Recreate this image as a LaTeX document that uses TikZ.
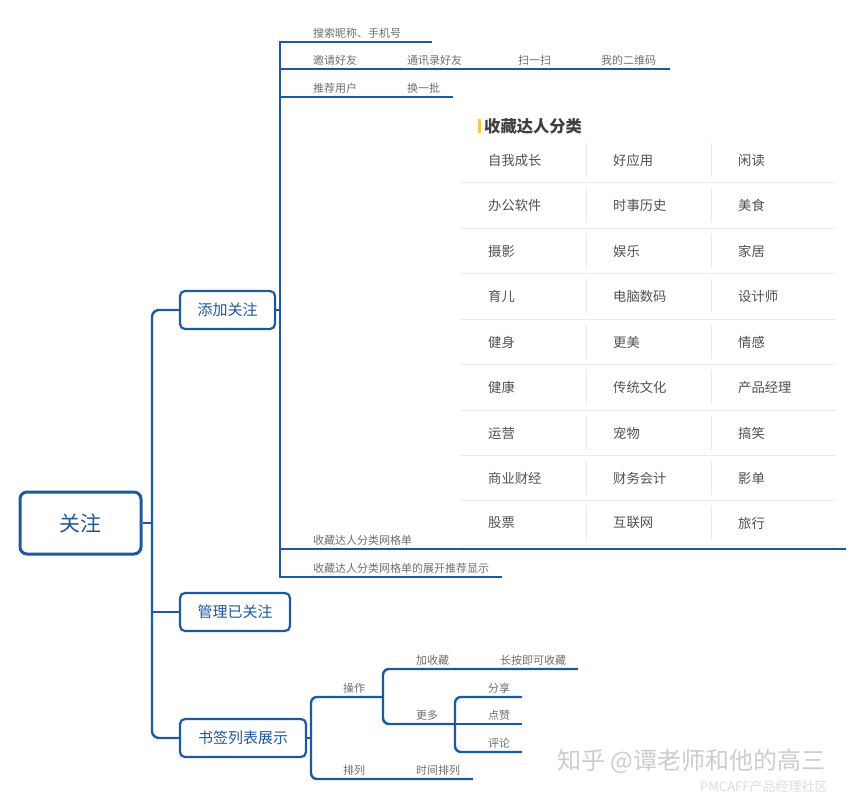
\documentclass[tikz,border=0pt]{standalone}
\usepackage{fontspec}
\newfontfamily\cjk{Noto Sans CJK SC}
\usetikzlibrary{positioning,calc}
\definecolor{mapblue}{RGB}{30,88,160}
\definecolor{leafgray}{RGB}{110,110,110}
\definecolor{cellgray}{RGB}{80,80,80}
\definecolor{gridline}{RGB}{234,234,234}
\definecolor{titlebar}{RGB}{250,200,60}
\definecolor{markgray}{RGB}{205,205,205}

\begin{document}
\begin{tikzpicture}[
  x=1pt, y=-1pt,
  font=\cjk,
  branch/.style={draw=mapblue, line width=2.4pt},
  rootbox/.style={draw=mapblue, line width=3pt, fill=white, rounded corners=7pt,
    minimum width=121pt, minimum height=62pt, text=mapblue, font=\cjk\fontsize{21}{21}\selectfont},
  topicbox/.style={draw=mapblue, line width=2.2pt, fill=white, rounded corners=5pt,
    minimum height=38pt, text=mapblue, font=\cjk\fontsize{15}{15}\selectfont},
  leaf/.style={anchor=base west, inner sep=0pt, text=leafgray, font=\cjk\fontsize{11}{11}\selectfont},
  cell/.style={anchor=west, inner sep=0pt, text=cellgray, font=\cjk\fontsize{13.3}{13.3}\selectfont},
  sep/.style={draw=gridline, line width=1pt}
]
\useasboundingbox (0,0) rectangle (865,798);

% main topics
\node[rootbox] (root) at (80.5,523) {关注};
\node[topicbox, minimum width=95pt] (add) at (227.5,310) {添加关注};
\node[topicbox, minimum width=110pt] (manage) at (235,612) {管理已关注};
\node[topicbox, minimum width=126pt] (mark) at (243,738) {书签列表展示};

\coordinate (rootfork) at (152,523);
\draw[branch] (root.east) -- (rootfork);
\draw[branch, rounded corners=7pt] (add.west) -| (rootfork) |- (mark.west);
\draw[branch] (rootfork |- manage.west) -- (manage.west);

% 添加关注
\coordinate (addfork) at (280,310);
\coordinate (searchend) at (432,42);
\coordinate (inviteend) at (670,69);
\coordinate (recommend) at (453,97);
\coordinate (gridend) at (846,549);
\coordinate (expandend) at (502,577);
\draw[branch] (add.east) -- (addfork);
\draw[branch] (searchend) -| (addfork) |- (expandend);
\draw[branch] (addfork |- inviteend) -- (inviteend);
\draw[branch] (addfork |- recommend) -- (recommend);
\draw[branch] (addfork |- gridend) -- (gridend);

\node[leaf] (search) at (313,37) {搜索昵称、手机号};
\node[leaf] (invite) at (313,64) {邀请好友};
\node[leaf] (contacts) at (407,64) {通讯录好友};
\node[leaf] (scan) at (518,64) {扫一扫};
\node[leaf] (qrcode) at (601,64) {我的二维码};
\node[leaf] (users) at (313,92) {推荐用户};
\node[leaf] (refresh) at (407,92) {换一批};
\node[leaf] (gridlabel) at (313,544) {收藏达人分类网格单};
\node[leaf] (expandlabel) at (313,572) {收藏达人分类网格单的展开推荐显示};

% 收藏达人分类 grid
\fill[titlebar] (478,119) rectangle (481,133);
\node[anchor=west, inner sep=0pt, text=black!75, font=\cjk\bfseries\fontsize{16.3}{16.3}\selectfont]
  (gridtitle) at (484,126.5) {收藏达人分类};
\foreach \y in {182.5,228,273.5,319,364.5,410,455.5,500.5,545.5}
  \draw[sep] (461,\y) -- (836,\y);
\foreach \y in {160,205,251,296,342,387,433,478,523}
  \draw[sep] (586,\y-17) -- (586,\y+17) (711,\y-17) -- (711,\y+17);

\node[cell] (c11) at (488,160) {自我成长};
\node[cell] (c12) at (613,160) {好应用};
\node[cell] (c13) at (738,160) {闲读};
\node[cell] (c21) at (488,205) {办公软件};
\node[cell] (c22) at (613,205) {时事历史};
\node[cell] (c23) at (738,205) {美食};
\node[cell] (c31) at (488,251) {摄影};
\node[cell] (c32) at (613,251) {娱乐};
\node[cell] (c33) at (738,251) {家居};
\node[cell] (c41) at (488,296) {育儿};
\node[cell] (c42) at (613,296) {电脑数码};
\node[cell] (c43) at (738,296) {设计师};
\node[cell] (c51) at (488,342) {健身};
\node[cell] (c52) at (613,342) {更美};
\node[cell] (c53) at (738,342) {情感};
\node[cell] (c61) at (488,387) {健康};
\node[cell] (c62) at (613,387) {传统文化};
\node[cell] (c63) at (738,387) {产品经理};
\node[cell] (c71) at (488,433) {运营};
\node[cell] (c72) at (613,433) {宠物};
\node[cell] (c73) at (738,433) {搞笑};
\node[cell] (c81) at (488,478) {商业财经};
\node[cell] (c82) at (613,478) {财务会计};
\node[cell] (c83) at (738,478) {影单};
\node[cell] (c91) at (488,523) {股票};
\node[cell] (c92) at (613,523) {互联网};
\node[cell] (c93) at (738,523) {旅行};

% 书签列表展示
\coordinate (markfork) at (311,738);
\coordinate (opfork) at (383,697);
\coordinate (sortend) at (473,779);
\coordinate (collectend) at (578,669);
\coordinate (morefork) at (455,724);
\coordinate (shareend) at (522,697);
\coordinate (likeend) at (522,724);
\coordinate (commentend) at (522,752);
\draw[branch] (mark.east) -- (markfork);
\draw[branch, rounded corners=6pt] (opfork) -| (markfork) |- (sortend);
\draw[branch, rounded corners=6pt] (collectend) -| (opfork) |- (morefork);
\draw[branch, rounded corners=6pt] (shareend) -| (morefork) |- (commentend);
\draw[branch] (morefork) -- (likeend);

\node[leaf] (operate) at (343,692) {操作};
\node[leaf] (collect) at (416,664) {加收藏};
\node[leaf] (longpress) at (500,664) {长按即可收藏};
\node[leaf] (more) at (416,719) {更多};
\node[leaf] (share) at (488,692) {分享};
\node[leaf] (like) at (488,719) {点赞};
\node[leaf] (comment) at (488,747) {评论};
\node[leaf] (sort) at (343,774) {排列};
\node[leaf] (timesort) at (416,774) {时间排列};

% watermark
\node[anchor=west, inner sep=0pt, text=markgray, font=\cjk\fontsize{24}{24}\selectfont]
  (zhihu) at (557,761) {知乎 @谭老师和他的高三};
\node[anchor=west, inner sep=0pt, text=markgray!70, font=\cjk\fontsize{13}{13}\selectfont]
  (pmcaff) at (700,787) {PMCAFF产品经理社区};

\end{tikzpicture}
\end{document}
